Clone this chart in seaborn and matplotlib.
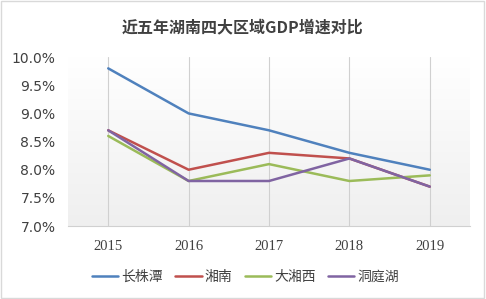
import matplotlib
matplotlib.use("Agg")
import matplotlib.pyplot as plt
import seaborn as sns
import pandas as pd
import numpy as np
from matplotlib.ticker import FuncFormatter

years = ["2015", "2016", "2017", "2018", "2019"]
series_names = ["长株潭", "湘南", "大湘西", "洞庭湖"]
cz_t = [9.8, 9.0, 8.7, 8.3, 8.0]
xiangnan = [8.7, 8.0, 8.3, 8.2, 7.7]
daxiangxi = [8.6, 7.8, 8.1, 7.8, 7.9]
dongtinghu = [8.7, 7.8, 7.8, 8.2, 7.7]
colors = ["#4F81BD", "#C0504D", "#9BBB59", "#8064A2"]

df = pd.DataFrame({
    "year": years * 4,
    "x": list(range(len(years))) * 4,
    "value": cz_t + xiangnan + daxiangxi + dongtinghu,
    "region": [n for n in series_names for _ in years],
})

sns.set_theme(style="white")
plt.rcParams['font.family'] = ['Noto Sans CJK SC', 'DejaVu Sans']

fig = plt.figure(figsize=(4.86, 2.99), dpi=100)
fig.patch.set_facecolor("white")
ax = fig.add_axes([0.14, 0.244, 0.827, 0.565])

# subtle gradient background
grad = np.linspace(1, 0, 256).reshape(-1, 1)
ax.imshow(grad, extent=[-0.5, 4.5, 7.0, 10.0], aspect="auto",
          cmap=matplotlib.colors.LinearSegmentedColormap.from_list("g", ["#EFEFEF", "#FFFFFF"]),
          vmin=0, vmax=1, zorder=0)

for i in range(len(years)):
    ax.axvline(i, color="#D0D0D0", lw=0.8, zorder=1)

sns.lineplot(data=df, x="x", y="value", hue="region", palette=colors,
             hue_order=series_names, lw=1.8, ax=ax, legend=False, zorder=3)

ax.set_xlim(-0.5, 4.5)
ax.set_ylim(7.0, 10.0)
ax.set_yticks(np.arange(7.0, 10.01, 0.5))
ax.yaxis.set_major_formatter(FuncFormatter(lambda v, p: f"{v:.1f}%"))
ax.set_xticks(range(len(years)))
ax.set_xticklabels(years, family=["Liberation Serif"], fontsize=10.5, color="#404040")
for t in ax.get_yticklabels():
    t.set_family(["DejaVu Sans"])
    t.set_fontsize(10)
    t.set_color("#404040")
ax.tick_params(axis="x", length=0, pad=10)
ax.tick_params(axis="y", length=0, pad=9)
ax.set_xlabel("")
ax.set_ylabel("")
for s in ["left", "right", "top"]:
    ax.spines[s].set_visible(False)
ax.spines["bottom"].set_color("#D0D0D0")
ax.spines["bottom"].set_linewidth(0.8)

fig.text(0.5, 0.91, "近五年湖南四大区域GDP增速对比", ha="center", va="center",
         fontsize=11.5, fontweight="bold", color="#404040")

from matplotlib.lines import Line2D
handles = [Line2D([0], [0], color=c, lw=1.8) for c in colors]
fig.legend(handles, series_names, loc="center", bbox_to_anchor=(0.505, 0.075),
           ncol=4, frameon=False, fontsize=10, handlelength=1.9,
           columnspacing=0.9, handletextpad=0.2, labelcolor="#404040")

fig.add_artist(matplotlib.patches.Rectangle((0.002, 0.003), 0.994, 0.993,
               transform=fig.transFigure, fill=False, edgecolor="#D9D9D9", lw=1))

fig.savefig("out.png", dpi=100)
